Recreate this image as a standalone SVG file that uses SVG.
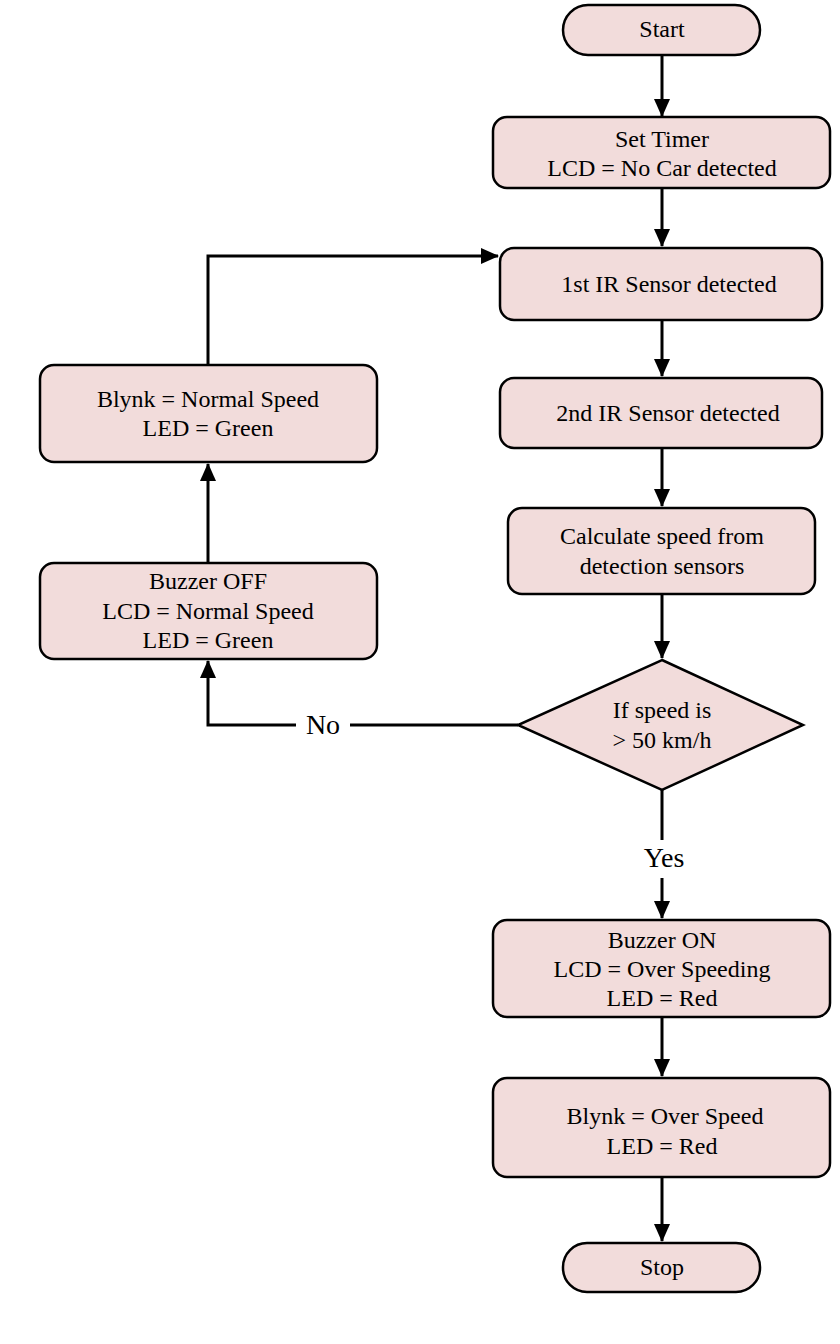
<svg xmlns="http://www.w3.org/2000/svg" width="840" height="1344" viewBox="0 0 840 1344">
<defs>
<marker id="ah" markerWidth="18" markerHeight="16" refX="17" refY="8" orient="auto" markerUnits="userSpaceOnUse"><path d="M0,0 L18,8 L0,16 z" fill="#000"/></marker>
<style>
.n{fill:#f2dcdb;stroke:#000;stroke-width:2.5}
text{font-family:"Liberation Serif","Times New Roman",serif;font-size:24px;fill:#000;text-anchor:middle}
.c{fill:none;stroke:#000;stroke-width:3;marker-end:url(#ah)}
</style>
</defs>
<rect width="840" height="1344" fill="#fff"/>
<g id="connectors">
<path class="c" d="M662,55 V116"/>
<path class="c" d="M662,188 V246"/>
<path class="c" d="M662,320 V376"/>
<path class="c" d="M662,448 V506"/>
<path class="c" d="M662,594 V658"/>
<path class="c" d="M662,790 V840 M662,878 V918"/>
<path class="c" d="M662,1017 V1076"/>
<path class="c" d="M662,1177 V1241"/>
<path class="c" d="M518,725 H350 M296,725 H208 V661"/>
<path class="c" d="M208,563 V464"/>
<path class="c" d="M208,365 V256 H498"/>
<text x="323" y="734" style="font-size:28px">No</text>
<text x="664" y="867" style="font-size:28px">Yes</text>
</g>
<g id="start"><rect class="n" x="563" y="5" width="197" height="50" rx="25"/><text x="662" y="37">Start</text></g>
<g id="settimer"><rect class="n" x="493" y="117" width="337" height="71" rx="14"/><text x="662" y="147">Set Timer</text><text x="662" y="176">LCD = No Car detected</text></g>
<g id="ir1"><rect class="n" x="500" y="248" width="322" height="72" rx="14"/><text x="669" y="292">1st IR Sensor detected</text></g>
<g id="ir2"><rect class="n" x="500" y="378" width="322" height="70" rx="14"/><text x="668" y="421">2nd IR Sensor detected</text></g>
<g id="calc"><rect class="n" x="508" y="508" width="307" height="86" rx="14"/><text x="662" y="544">Calculate speed from</text><text x="662" y="574">detection sensors</text></g>
<g id="decision"><polygon class="n" points="662,660 803,725 662,790 518,725"/><text x="662" y="718">If speed is</text><text x="662" y="748">&gt; 50 km/h</text></g>
<g id="buzzeron"><rect class="n" x="493" y="920" width="337" height="97" rx="14"/><text x="662" y="948">Buzzer ON</text><text x="662" y="977">LCD = Over Speeding</text><text x="662" y="1006">LED = Red</text></g>
<g id="blynkover"><rect class="n" x="493" y="1078" width="337" height="99" rx="14"/><text x="665" y="1124">Blynk = Over Speed</text><text x="662" y="1154">LED = Red</text></g>
<g id="stop"><rect class="n" x="563" y="1243" width="197" height="49" rx="24"/><text x="662" y="1275">Stop</text></g>
<g id="blynknormal"><rect class="n" x="40" y="365" width="337" height="97" rx="14"/><text x="208" y="407">Blynk = Normal Speed</text><text x="208" y="436">LED = Green</text></g>
<g id="buzzeroff"><rect class="n" x="40" y="563" width="337" height="96" rx="14"/><text x="208" y="589">Buzzer OFF</text><text x="208" y="619">LCD = Normal Speed</text><text x="208" y="648">LED = Green</text></g>
</svg>
